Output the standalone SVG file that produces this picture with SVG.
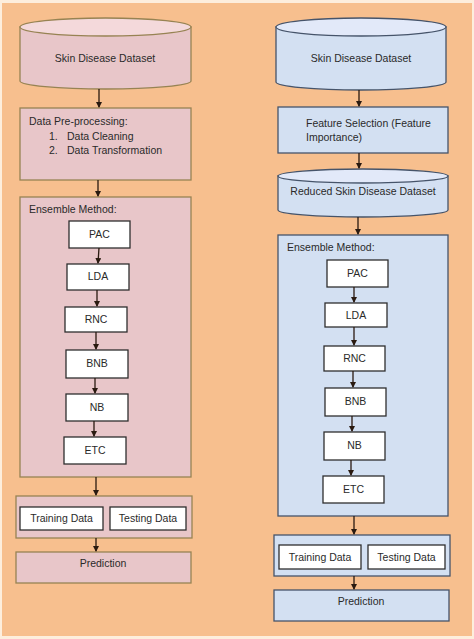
<svg xmlns="http://www.w3.org/2000/svg" width="474" height="639" viewBox="0 0 474 639">
<defs>
<marker id="ah" markerWidth="6" markerHeight="6" refX="5" refY="3" orient="auto" markerUnits="userSpaceOnUse">
<path d="M0,0 L6,3 L0,6 Z" fill="#2a1a10"/>
</marker>
<style>
.pk{fill:#e8c6c9;stroke:#978353;stroke-width:1.3}
.pkt{fill:#f4d9db;stroke:#978353;stroke-width:1.3}
.bl{fill:#d3e0f2;stroke:#46546a;stroke-width:1.3}
.blt{fill:#e2e9f9;stroke:#46546a;stroke-width:1.3}
.wb{fill:#ffffff;stroke:#2e2e2e;stroke-width:1.3}
.c{stroke:#2a1a10;stroke-width:1.3;fill:none;marker-end:url(#ah)}
text{font-family:"Liberation Sans",Arial,sans-serif;font-size:10.5px;fill:#2a2a2a}
.m{text-anchor:middle}
</style>
</defs>
<rect x="0" y="0" width="474" height="639" fill="#fdeedd"/>
<rect x="2" y="3" width="470" height="633" fill="#f7bf8e"/>

<g id="left-dataset">
<path class="pk" d="M20,27 L20,81 A85.5,8 0 0 0 191,81 L191,27 Z"/>
<ellipse class="pkt" cx="105.5" cy="27" rx="85.5" ry="9"/>
<text class="m" x="105" y="62">Skin Disease Dataset</text>
</g>

<g id="left-preprocessing">
<rect class="pk" x="20" y="108" width="171" height="72"/>
<text x="29" y="125">Data Pre-processing:</text>
<text x="49" y="140">1.</text><text x="67" y="140">Data Cleaning</text>
<text x="49" y="154">2.</text><text x="67" y="154">Data Transformation</text>
</g>

<g id="left-ensemble">
<rect class="pk" x="20" y="197" width="171" height="280"/>
<text x="29" y="213">Ensemble Method:</text>
</g>
<g id="left-pac"><rect class="wb" x="69" y="221" width="61" height="27"/><text class="m" x="99.5" y="238">PAC</text></g>
<g id="left-lda"><rect class="wb" x="67" y="264" width="62" height="26"/><text class="m" x="98" y="280">LDA</text></g>
<g id="left-rnc"><rect class="wb" x="65" y="307" width="62" height="25"/><text class="m" x="96" y="323">RNC</text></g>
<g id="left-bnb"><rect class="wb" x="66" y="350" width="62" height="28"/><text class="m" x="97" y="367">BNB</text></g>
<g id="left-nb"><rect class="wb" x="66" y="394" width="62" height="27"/><text class="m" x="97" y="411">NB</text></g>
<g id="left-etc"><rect class="wb" x="64" y="437" width="62" height="27"/><text class="m" x="95" y="454">ETC</text></g>

<g id="left-split">
<rect class="pk" x="16" y="496" width="176" height="42"/>
</g>
<g id="left-training"><rect class="wb" x="20" y="507" width="83" height="23"/><text class="m" x="61.5" y="522">Training Data</text></g>
<g id="left-testing"><rect class="wb" x="110" y="507" width="76" height="23"/><text class="m" x="148" y="522">Testing Data</text></g>

<g id="left-prediction">
<rect class="pk" x="16" y="552" width="175" height="31"/>
<text class="m" x="103" y="567">Prediction</text>
</g>

<g id="right-dataset">
<path class="bl" d="M276,27 L276,82 A85,8 0 0 0 446,82 L446,27 Z"/>
<ellipse class="blt" cx="361" cy="27" rx="85" ry="9"/>
<text class="m" x="361" y="62">Skin Disease Dataset</text>
</g>

<g id="right-feature-selection">
<rect class="bl" x="278" y="107" width="170" height="46"/>
<text x="306" y="127">Feature Selection (Feature</text>
<text x="306" y="141">Importance)</text>
</g>

<g id="right-reduced">
<path class="bl" d="M278,176 L278,210 A85,7 0 0 0 448,210 L448,176 Z"/>
<ellipse class="blt" cx="363" cy="176" rx="85" ry="7"/>
<text class="m" x="363" y="195">Reduced Skin Disease Dataset</text>
</g>

<g id="right-ensemble">
<rect class="bl" x="278" y="235" width="170" height="281"/>
<text x="287" y="251">Ensemble Method:</text>
</g>
<g id="right-pac"><rect class="wb" x="327" y="260" width="61" height="27"/><text class="m" x="357.5" y="277">PAC</text></g>
<g id="right-lda"><rect class="wb" x="325" y="303" width="62" height="24"/><text class="m" x="356" y="319">LDA</text></g>
<g id="right-rnc"><rect class="wb" x="324" y="346" width="61" height="25"/><text class="m" x="354.5" y="362">RNC</text></g>
<g id="right-bnb"><rect class="wb" x="325" y="388" width="61" height="28"/><text class="m" x="355.5" y="405">BNB</text></g>
<g id="right-nb"><rect class="wb" x="324" y="432" width="61" height="28"/><text class="m" x="354.5" y="449">NB</text></g>
<g id="right-etc"><rect class="wb" x="323" y="476" width="61" height="27"/><text class="m" x="353.5" y="493">ETC</text></g>

<g id="right-split">
<rect class="bl" x="274" y="535" width="176" height="41"/>
</g>
<g id="right-training"><rect class="wb" x="279" y="545" width="82" height="24"/><text class="m" x="320" y="560.5">Training Data</text></g>
<g id="right-testing"><rect class="wb" x="368" y="545" width="77" height="24"/><text class="m" x="406.5" y="560.5">Testing Data</text></g>

<g id="right-prediction">
<rect class="bl" x="274" y="590" width="175" height="31"/>
<text class="m" x="361" y="605">Prediction</text>
</g>

<g id="connectors">
<line class="c" x1="99" y1="89" x2="99" y2="107"/>
<line class="c" x1="98" y1="180" x2="98" y2="196"/>
<line class="c" x1="99" y1="248" x2="98" y2="263"/>
<line class="c" x1="97" y1="290" x2="97" y2="306"/>
<line class="c" x1="96" y1="332" x2="96" y2="349"/>
<line class="c" x1="95" y1="378" x2="95" y2="393"/>
<line class="c" x1="94" y1="421" x2="94" y2="436"/>
<line class="c" x1="96" y1="477" x2="96" y2="495"/>
<line class="c" x1="96" y1="538" x2="96" y2="551"/>
<line class="c" x1="359" y1="90" x2="359" y2="106"/>
<line class="c" x1="359" y1="153" x2="359" y2="168"/>
<line class="c" x1="358" y1="217" x2="358" y2="234"/>
<line class="c" x1="354" y1="287" x2="354" y2="302"/>
<line class="c" x1="354" y1="327" x2="354" y2="345"/>
<line class="c" x1="353" y1="371" x2="353" y2="387"/>
<line class="c" x1="352" y1="416" x2="352" y2="431"/>
<line class="c" x1="351" y1="460" x2="351" y2="475"/>
<line class="c" x1="354" y1="516" x2="354" y2="534"/>
<line class="c" x1="354" y1="576" x2="354" y2="589"/>
</g>
</svg>
